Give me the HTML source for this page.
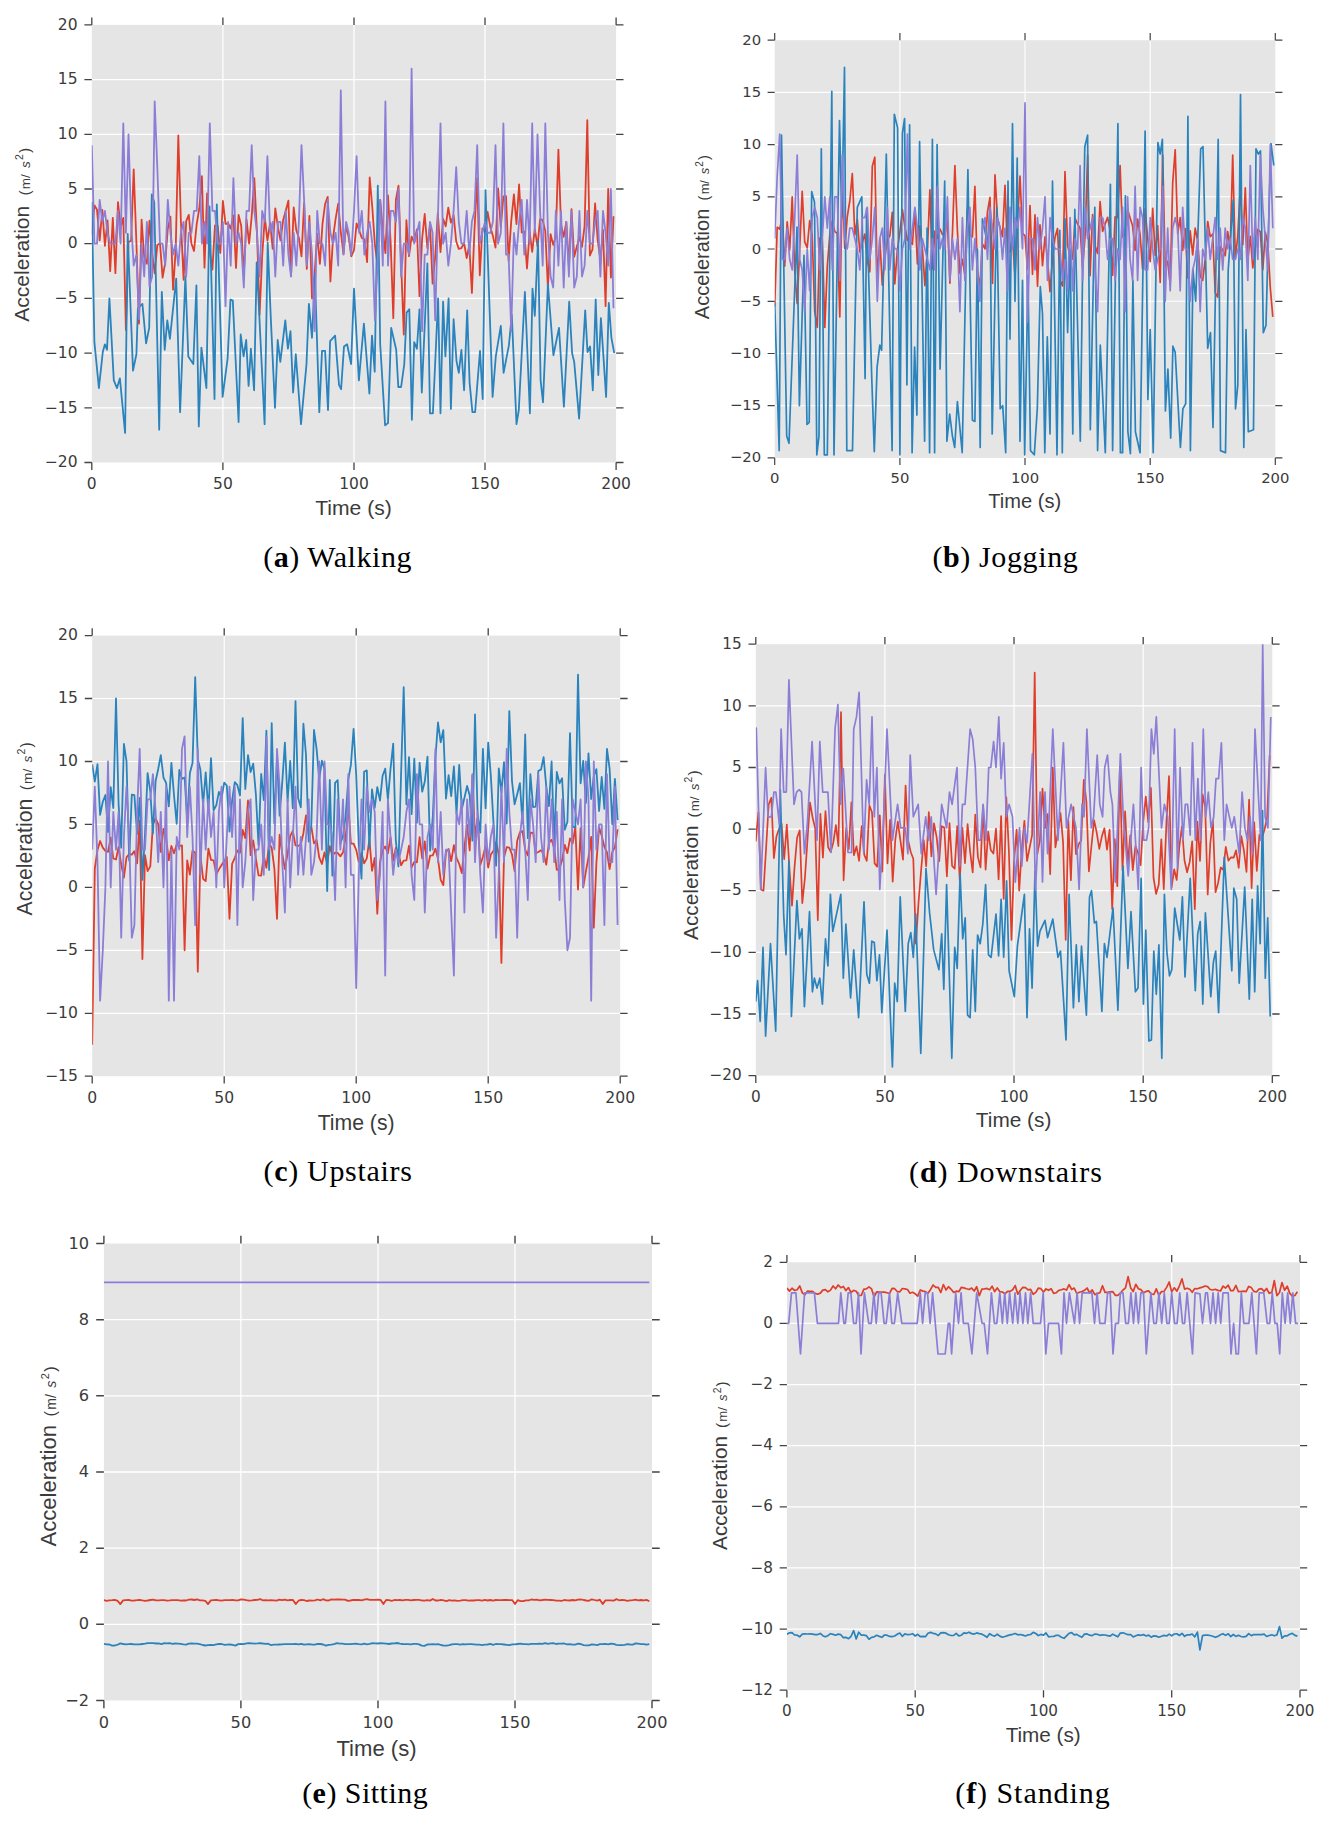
<!DOCTYPE html><html><head><meta charset="utf-8"><style>html,body{margin:0;padding:0;background:#fff;}svg{display:block;}.tk{font-family:"DejaVu Sans",sans-serif;fill:#3b3b3b;}.lb{font-family:"Liberation Sans",sans-serif;fill:#3b3b3b;}.cp{font-family:"Liberation Serif",serif;fill:#000;}</style></head><body>
<svg width="1324" height="1823" viewBox="0 0 1324 1823">
<rect width="1324" height="1823" fill="#fff"/>
<g>
<rect x="91.8" y="24.9" width="524.3" height="437.6" fill="#e5e5e5"/>
<path d="M222.9 24.9V462.5M354 24.9V462.5M485 24.9V462.5M91.8 407.8H616.1M91.8 353.1H616.1M91.8 298.4H616.1M91.8 243.7H616.1M91.8 189H616.1M91.8 134.3H616.1M91.8 79.6H616.1" stroke="#fff" stroke-width="1.2" fill="none"/>
<clipPath id="clip_a"><rect x="91.8" y="24.9" width="524.3" height="437.6"/></clipPath>
<g clip-path="url(#clip_a)" fill="none" stroke-width="1.8" stroke-linejoin="round">
<polyline stroke="#DE3E2B" points="91.8,234.2 94.4,205.3 97,209.8 99.7,240.4 102.3,209.8 104.9,245.8 107.5,220.3 110.2,271.1 112.8,217.8 115.4,273.2 118,202.1 120.6,227.5 123.3,217.9 125.9,330.1 128.5,242 131.1,240.7 133.7,169.3 136.4,242.5 139,323.6 141.6,219.6 144.2,257.1 146.9,263.7 149.5,220.6 152.1,252.5 154.7,273.5 157.3,245.1 160,243.2 162.6,277.6 165.2,262.7 167.8,228.6 170.4,216.6 173.1,289.6 175.7,249.5 178.3,135.4 180.9,221.5 183.6,279.8 186.2,221.2 188.8,214.9 191.4,243.5 194,251 196.7,224.1 199.3,208.5 201.9,176.2 204.5,267.7 207.1,193.4 209.8,251.7 212.4,269.5 215,225.3 217.6,225.3 220.3,253 222.9,201 225.5,223.8 228.1,223.5 230.7,228.5 233.4,215.3 236,268 238.6,214.9 241.2,225.8 243.8,275.5 246.5,219.3 249.1,243.6 251.7,216.1 254.3,178.1 257,232.7 259.6,314.8 262.2,255.5 264.8,217.7 267.4,240.7 270.1,223 272.7,248.8 275.3,208.4 277.9,227 280.5,240.4 283.2,220 285.8,210.4 288.4,200.7 291,276.2 293.7,207.4 296.3,230.3 298.9,237.9 301.5,256.4 304.1,203.2 306.8,268.9 309.4,215.8 312,298.4 314.6,274.9 317.2,233.6 319.9,263.9 322.5,223.8 325.1,204 327.7,196.9 330.4,281.5 333,238.2 335.6,218.9 338.2,203.6 340.8,232 343.5,254.2 346.1,225.1 348.7,237.3 351.3,256.4 354,250.2 356.6,223.4 359.2,230.5 361.8,237.9 364.4,239.2 367.1,262.2 369.7,177.5 372.3,207.5 374.9,244.6 377.5,264.5 380.2,199.8 382.8,230.4 385.4,253.2 388,195.5 390.7,243.5 393.3,318.1 395.9,200 398.5,185.7 401.1,262.8 403.8,334.5 406.4,220.2 409,256.1 411.6,236.6 414.2,242.3 416.9,229.3 419.5,296.2 422.1,239 424.7,214 427.4,248.3 430,225.1 432.6,283.7 435.2,256.9 437.8,213.1 440.5,252.2 443.1,218.8 445.7,226.3 448.3,207.7 450.9,222.6 453.6,215.2 456.2,241.3 458.8,248.9 461.4,248.2 464.1,243 466.7,258.1 469.3,245.2 471.9,292.9 474.5,229.3 477.2,178.1 479.8,275.3 482.4,228.5 485,231.3 487.6,211.9 490.3,226.9 492.9,235.9 495.5,247.6 498.1,188.4 500.8,227.7 503.4,196.3 506,196.1 508.6,260.6 511.2,221.4 513.9,194.3 516.5,224.2 519.1,184.5 521.7,232.5 524.3,231.6 527,268.5 529.6,231.9 532.2,251.9 534.8,228.8 537.5,246.4 540.1,219.1 542.7,220.2 545.3,231.1 547.9,287.6 550.6,234.1 553.2,244.9 555.8,236.6 558.4,149.6 561,224.4 563.7,236.8 566.3,221.9 568.9,266.6 571.5,209.2 574.2,256.8 576.8,246.6 579.4,236.9 582,246.9 584.6,226.2 587.3,120.1 589.9,255.5 592.5,249.3 595.1,203.4 597.7,240.3 600.4,259.4 603,229.9 605.6,306.1 608.2,188.8 610.9,277.5 613.5,216.3"/>
<polyline stroke="#2A83BC" points="91.8,202.1 94.4,342.2 98.9,388.1 102.8,352 104.9,344.3 107,349.8 109.4,298.4 113.8,380.4 117,388.1 119.9,378.3 125.1,433 127.7,233.9 133,370.6 136.4,354.2 137.9,308.2 142.4,303.9 146.1,343.3 149.2,327.9 151.8,194.5 154.2,202.1 159.2,429.7 161.8,291.8 164.7,349.8 167.3,320.3 169.9,338.9 176.2,278.7 180.1,412.2 185.4,276.5 188.3,356.4 193.3,364 196.4,285.3 198.8,426.4 201.4,347.6 206.4,388.1 209.5,206.5 214.5,399 216.8,204.3 222.6,396.9 227.6,358.6 230.5,299.5 232.8,300.6 238.6,422 240.7,334.5 243.6,356.4 246.2,340 248.6,385.9 250.9,348.7 254.1,390.3 256.7,262.3 264.6,424.2 267.7,242.6 270.8,318.1 275,407.8 277.7,340 280.3,361.9 285.3,320.3 287.9,348.7 290.5,331.2 293.1,392.5 295.8,354.2 301,424.2 306.5,364 308.9,303.9 312,337.8 314.9,274.3 319.3,412.2 322,350.9 325.1,350.9 328,410 330.1,341.1 335.1,335.6 339,384.8 341.1,389.2 344,346.5 347.1,344.3 351.1,364 354,288.6 358.9,380.4 363.9,323.6 369.4,393.6 372,335.6 374.7,371.7 377.8,185.7 380.2,344.3 385.1,425.3 388,423.1 391.2,327.9 396.2,349.8 398.3,387 401.1,387 404.3,364 406.6,312.6 409.3,309.3 411.9,419.8 414.2,342.2 416.9,348.7 419.5,309.3 421.8,392.5 427.4,263.4 430,413.3 432.9,413.3 438.1,298.4 440.5,413.3 443.1,301.7 445.4,356.4 448.6,298.4 450.9,408.9 453.6,319.2 456.5,360.8 458.8,372.8 461.4,349.8 464.1,390.3 467.2,310.4 469.6,382.6 472.4,412.2 475.1,412.2 480,350.9 482.7,399 485.5,190.1 492.6,396.9 495.8,356.4 500.8,325.8 503.6,372.8 508.9,345.4 511.8,314.8 516.5,424.2 518.8,410 524.9,291.8 529.9,413.3 532.5,288.6 534.8,315.9 538,240.4 540.6,380.4 543,402.3 547.9,284.2 553.4,355.3 559,327.9 563.9,406.7 569.2,301.7 572.1,353.1 574.2,361.9 579.1,418.7 585.2,310.4 587.5,352 590.1,346.5 592.8,390.3 595.7,299.5 598.3,375 600.9,318.1 606.1,396.9 608.8,302.8 611.4,337.8 614.3,353.1"/>
<polyline stroke="#8B7ED6" points="91.8,145.2 94.4,243.7 97,243.7 99.7,199.9 102.3,221.8 104.9,210.9 107.5,232.8 110.2,243.7 112.8,243.7 115.4,243.7 118,210.9 120.6,243.7 123.3,123.4 125.9,232.8 128.5,134.3 131.1,221.8 133.7,265.6 136.4,254.6 139,319.2 141.6,243.7 144.2,276.5 146.9,221.8 149.5,286.4 152.1,276.5 154.7,101.5 157.3,167.1 160,243.7 162.6,243.7 165.2,265.6 167.8,199.9 170.4,232.8 173.1,254.6 175.7,243.7 178.3,265.6 180.9,232.8 183.6,221.8 186.2,276.5 188.8,232.8 191.4,232.8 194,210.9 196.7,210.9 199.3,156.2 201.9,243.7 204.5,221.8 207.1,243.7 209.8,123.4 212.4,210.9 215,210.9 217.6,243.7 220.3,243.7 222.9,221.8 225.5,306.1 228.1,221.8 230.7,265.6 233.4,178.1 236,243.7 238.6,232.8 241.2,243.7 243.8,287.5 246.5,210.9 249.1,210.9 251.7,145.2 254.3,210.9 257,232.8 259.6,276.5 262.2,210.9 264.8,221.8 267.4,156.2 270.1,232.8 272.7,221.8 275.3,276.5 277.9,221.8 280.5,221.8 283.2,265.6 285.8,210.9 288.4,254.6 291,276.5 293.7,232.8 296.3,265.6 298.9,221.8 301.5,145.2 304.1,199.9 306.8,265.6 309.4,221.8 312,254.6 314.6,331.2 317.2,210.9 319.9,243.7 322.5,243.7 325.1,265.6 327.7,199.9 330.4,232.8 333,243.7 335.6,232.8 338.2,265.6 340.8,90.5 343.5,254.6 346.1,221.8 348.7,232.8 351.3,254.6 354,210.9 356.6,156.2 359.2,232.8 361.8,210.9 364.4,254.6 367.1,232.8 369.7,221.8 372.3,243.7 374.9,320.3 377.5,265.6 380.2,199.9 382.8,265.6 385.4,101.5 388,265.6 390.7,210.9 393.3,210.9 395.9,221.8 398.5,189 401.1,276.5 403.8,243.7 406.4,243.7 409,254.6 411.6,68.7 414.2,243.7 416.9,232.8 419.5,221.8 422.1,331.2 424.7,254.6 427.4,254.6 430,221.8 432.6,232.8 435.2,320.3 437.8,221.8 440.5,123.4 443.1,243.7 445.7,232.8 448.3,265.6 450.9,243.7 453.6,210.9 456.2,167.1 458.8,221.8 461.4,243.7 464.1,243.7 466.7,210.9 469.3,254.6 471.9,221.8 474.5,210.9 477.2,145.2 479.8,243.7 482.4,232.8 485,221.8 487.6,232.8 490.3,232.8 492.9,221.8 495.5,145.2 498.1,243.7 500.8,232.8 503.4,123.4 506,254.6 508.6,254.6 511.2,331.2 513.9,232.8 516.5,254.6 519.1,221.8 521.7,199.9 524.3,254.6 527,199.9 529.6,243.7 532.2,123.4 534.8,232.8 537.5,134.3 540.1,210.9 542.7,265.6 545.3,123.4 547.9,232.8 550.6,276.5 553.2,287.5 555.8,210.9 558.4,265.6 561,210.9 563.7,287.5 566.3,221.8 568.9,276.5 571.5,210.9 574.2,287.5 576.8,276.5 579.4,210.9 582,276.5 584.6,265.6 587.3,210.9 589.9,243.7 592.5,243.7 595.1,221.8 597.7,210.9 600.4,276.5 603,210.9 605.6,232.8 608.2,265.6 610.9,189 613.5,308.2"/>
</g>
<path d="M91.8 462.5v7.4M91.8 24.9v-7.4M222.9 462.5v7.4M222.9 24.9v-7.4M354 462.5v7.4M354 24.9v-7.4M485 462.5v7.4M485 24.9v-7.4M616.1 462.5v7.4M616.1 24.9v-7.4M91.8 462.5h-7.4M616.1 462.5h7.4M91.8 407.8h-7.4M616.1 407.8h7.4M91.8 353.1h-7.4M616.1 353.1h7.4M91.8 298.4h-7.4M616.1 298.4h7.4M91.8 243.7h-7.4M616.1 243.7h7.4M91.8 189h-7.4M616.1 189h7.4M91.8 134.3h-7.4M616.1 134.3h7.4M91.8 79.6h-7.4M616.1 79.6h7.4M91.8 24.9h-7.4M616.1 24.9h7.4" stroke="#444444" stroke-width="1.3" fill="none"/>
<text class="tk" x="91.8" y="489" font-size="15.5" text-anchor="middle">0</text>
<text class="tk" x="222.9" y="489" font-size="15.5" text-anchor="middle">50</text>
<text class="tk" x="354" y="489" font-size="15.5" text-anchor="middle">100</text>
<text class="tk" x="485" y="489" font-size="15.5" text-anchor="middle">150</text>
<text class="tk" x="616.1" y="489" font-size="15.5" text-anchor="middle">200</text>
<text class="tk" x="77.6" y="467.2" font-size="15.5" text-anchor="end">−20</text>
<text class="tk" x="77.6" y="412.5" font-size="15.5" text-anchor="end">−15</text>
<text class="tk" x="77.6" y="357.8" font-size="15.5" text-anchor="end">−10</text>
<text class="tk" x="77.6" y="303.1" font-size="15.5" text-anchor="end">−5</text>
<text class="tk" x="77.6" y="248.4" font-size="15.5" text-anchor="end">0</text>
<text class="tk" x="77.6" y="193.7" font-size="15.5" text-anchor="end">5</text>
<text class="tk" x="77.6" y="139" font-size="15.5" text-anchor="end">10</text>
<text class="tk" x="77.6" y="84.3" font-size="15.5" text-anchor="end">15</text>
<text class="tk" x="77.6" y="29.6" font-size="15.5" text-anchor="end">20</text>
<text class="lb" x="353.5" y="515.4" font-size="21.1" text-anchor="middle">Time (s)</text>
<text class="lb" transform="translate(29.2 321.8) rotate(-90)" font-size="21.1">Acceleration</text>
<text class="lb" transform="translate(29.8 195.5) rotate(-90)" font-size="15.5">(<tspan dx="1.2" font-size="13.5">m/</tspan><tspan dx="1.2" font-size="13.5"> </tspan><tspan dx="1.2" font-size="13.5" font-style="italic">s</tspan><tspan dx="1.2" dy="-6.8" font-size="10.5">2</tspan><tspan dx="1.2" dy="6.8">)</tspan></text>
<text class="cp" x="337.3" y="566.8" font-size="30" text-anchor="middle" textLength="148.3" lengthAdjust="spacing">(<tspan font-weight="bold">a</tspan>) Walking</text>
</g>
<g>
<rect x="774.7" y="40.2" width="500.6" height="417.7" fill="#e5e5e5"/>
<path d="M899.9 40.2V457.9M1025 40.2V457.9M1150.2 40.2V457.9M774.7 405.7H1275.3M774.7 353.5H1275.3M774.7 301.3H1275.3M774.7 249H1275.3M774.7 196.8H1275.3M774.7 144.6H1275.3M774.7 92.4H1275.3" stroke="#fff" stroke-width="1.1" fill="none"/>
<clipPath id="clip_b"><rect x="774.7" y="40.2" width="500.6" height="417.7"/></clipPath>
<g clip-path="url(#clip_b)" fill="none" stroke-width="1.7" stroke-linejoin="round">
<polyline stroke="#DE3E2B" points="774.7,306.5 777.2,227.3 779.7,229.1 782.2,217.7 784.7,266.2 787.2,221.9 789.7,249.9 792.2,196.8 794.7,270.8 797.2,303.6 799.7,249 802.2,191.3 804.7,241.8 807.2,247.6 809.7,220.6 812.2,235.1 814.7,311.7 817.3,327.4 819.8,238.1 822.3,238.9 824.8,327.4 827.3,266.4 829.8,234.7 832.3,221.1 834.8,231.6 837.3,233.2 839.8,316.9 842.3,182.8 844.8,248.5 847.3,216.6 849.8,201 852.3,173.5 854.8,235 857.3,219.3 859.8,252 862.3,242.4 864.8,234.1 867.3,260.7 869.8,271.8 872.3,166.3 874.8,157.2 877.3,281.5 879.8,238.5 882.3,285.1 884.8,258.4 887.3,239.1 889.8,236.2 892.3,212.4 894.8,284 897.3,250.5 899.9,232.2 902.4,209.7 904.9,227.1 907.4,240.1 909.9,241.2 912.4,244.3 914.9,209.3 917.4,263.9 919.9,225.8 922.4,248.2 924.9,285.6 927.4,250.3 929.9,189.8 932.4,268.9 934.9,231.2 937.4,238.2 939.9,228.8 942.4,234.5 944.9,234 947.4,220.7 949.9,283.1 952.4,234.2 954.9,165.5 957.4,230.7 959.9,273.3 962.4,259.4 964.9,275.1 967.4,209.4 969.9,235.3 972.4,236.9 974.9,186.4 977.4,271.7 979.9,286.9 982.4,243.8 985,248.9 987.5,211.6 990,197.3 992.5,283.5 995,174.8 997.5,218.5 1000,227.2 1002.5,236.7 1005,185.4 1007.5,252 1010,252 1012.5,237.3 1015,276.4 1017.5,224.4 1020,176 1022.5,233.3 1025,235.7 1027.5,269.3 1030,205.5 1032.5,274.3 1035,214.8 1037.5,286.3 1040,224.8 1042.5,265.7 1045,236.8 1047.5,259.3 1050,291.6 1052.5,259.4 1055,237.4 1057.5,228.5 1060,280.6 1062.5,285.9 1065,171.7 1067.6,245.1 1070.1,257.2 1072.6,259 1075.1,218.7 1077.6,224 1080.1,228.4 1082.6,267.8 1085.1,235.6 1087.6,155.1 1090.1,275.6 1092.6,214.7 1095.1,245.9 1097.6,253.4 1100.1,201.5 1102.6,231.4 1105.1,224.1 1107.6,217.3 1110.1,230.3 1112.6,275.3 1115.1,216.8 1117.6,217.8 1120.1,165.5 1122.6,236.9 1125.1,234.1 1127.6,209.6 1130.1,217.9 1132.6,225.8 1135.1,250.3 1137.6,219 1140.1,234.5 1142.6,269 1145.1,208.8 1147.6,237.4 1150.2,261.7 1152.7,208.3 1155.2,255.5 1157.7,225.7 1160.2,282.5 1162.7,155.1 1165.2,266.8 1167.7,261.1 1170.2,284.7 1172.7,182.6 1175.2,149.8 1177.7,233.7 1180.2,217.7 1182.7,250.5 1185.2,228.7 1187.7,278 1190.2,230.8 1192.7,254.9 1195.2,228.1 1197.7,241.1 1200.2,276.2 1202.7,280.4 1205.2,259.4 1207.7,221.5 1210.2,236.6 1212.7,234.1 1215.2,292.8 1217.7,297.2 1220.2,246.7 1222.7,249.8 1225.2,255.7 1227.7,231.5 1230.2,249 1232.7,155.1 1235.3,258.4 1237.8,236.1 1240.3,186.4 1242.8,244.6 1245.3,187.9 1247.8,260 1250.3,236.4 1252.8,267.9 1255.3,246.3 1257.8,229.4 1260.3,231.8 1262.8,269.9 1265.3,232.1 1267.8,243.6 1270.3,287.8 1272.8,316.9"/>
<polyline stroke="#2A83BC" points="774.7,302.3 779.2,450.6 781.5,135.2 786.7,436 789,443.3 797,227.1 799.4,405.7 804,255.3 807,424.5 809.2,422.4 811.7,191.6 814.5,202.1 816.8,454.8 819,436 821.3,148.8 824.3,454.8 827.3,454.8 831.8,91.4 834,454.8 839.5,120.6 841.8,217.7 844.5,67.4 846.8,450.6 852.5,450.6 857.3,207.3 861.8,196.8 865.1,378.5 866.6,208.3 871.8,379.6 874.3,451.6 877.1,367.1 879.8,345.1 881.6,350.3 886.3,154 892.1,450.6 894.3,114.3 897.6,127.9 899.9,454.8 902.4,133.1 904.6,118.5 906.9,384.8 909.6,124.8 912.1,452.7 914.6,347.2 916.9,415.1 919.6,141.5 924.6,441.2 927.1,228.2 929.6,452.7 932.4,139.4 934.6,452.7 937.1,144.6 940.1,369.1 944.7,181.2 946.9,441.2 949.7,414 952.4,436 954.7,447.5 957.4,401.5 962.2,452.7 967.9,169.7 972.4,420.3 974.9,421.4 977.4,249 980.2,447.5 982.4,218.8 987.5,243.8 990,207.3 992.2,433.9 996.7,207.3 1000.2,408.8 1002.7,405.7 1005.7,452.7 1008,181.2 1010,338.9 1012.5,123.7 1015,301.3 1017.2,158.2 1020,441.2 1022.5,280.4 1024.7,454.8 1028,276.2 1030.5,450.6 1034.3,454.8 1037.3,408.8 1040.3,286.6 1042.5,313.8 1044.8,452.7 1047.3,336.8 1050,433.9 1052.5,181.2 1057,454.8 1059.8,230.3 1062.3,452.7 1065,218.8 1067.6,332.6 1070.1,249 1072.8,433.9 1074.8,209.4 1080.3,441.2 1082.6,269.9 1084.8,146.7 1087.6,135.2 1090.3,429.7 1094.8,207.3 1097.6,450.6 1100.3,345.1 1105.3,452.7 1110.4,184.3 1112.6,450.6 1117.9,123.7 1120.4,452.7 1122.6,452.7 1125.4,195.8 1127.9,431.8 1130.4,453.7 1132.9,280.4 1135.4,431.8 1140.1,452.7 1145.1,131 1147.9,399.4 1150.2,329.5 1153.2,452.7 1157.9,142.5 1160.2,154 1162.4,139.4 1165.4,410.9 1167.9,369.1 1170.7,438.1 1172.9,346.2 1175.2,352.4 1180.4,447.5 1182.9,408.8 1185.7,403.6 1187.9,116.4 1190.4,450.6 1193,269.9 1195.7,301.3 1200.7,148.8 1203,146.7 1207.7,348.3 1210.5,332.6 1213,427.6 1218.2,139.4 1220.5,450.6 1225.5,452.7 1228.2,269.9 1233.2,200 1235.5,408.8 1237.8,384.8 1240.5,94.5 1243.8,447.5 1246,329.5 1248.3,431.8 1253.5,429.7 1256,148.8 1258.3,154 1260.5,150.9 1263.3,332.6 1266,325.3 1268.5,228.2 1271,143.6 1273.8,165.5"/>
<polyline stroke="#8B7ED6" points="774.7,238.6 777.2,176 779.7,134.2 782.2,259.5 784.7,259.5 787.2,228.2 789.7,259.5 792.2,269.9 794.7,217.7 797.2,155.1 799.7,259.5 802.2,269.9 804.7,311.7 807.2,249 809.7,290.8 812.2,217.7 814.7,207.3 817.3,217.7 819.8,269.9 822.3,238.6 824.8,196.8 827.3,228.2 829.8,196.8 832.3,269.9 834.8,196.8 837.3,196.8 839.8,280.4 842.3,155.1 844.8,238.6 847.3,249 849.8,228.2 852.3,228.2 854.8,238.6 857.3,249 859.8,269.9 862.3,217.7 864.8,217.7 867.3,207.3 869.8,259.5 872.3,238.6 874.8,207.3 877.3,301.3 879.8,238.6 882.3,228.2 884.8,269.9 887.3,207.3 889.8,269.9 892.3,238.6 894.8,249 897.3,249 899.9,290.8 902.4,249 904.9,238.6 907.4,134.2 909.9,249 912.4,228.2 914.9,207.3 917.4,228.2 919.9,269.9 922.4,238.6 924.9,249 927.4,259.5 929.9,269.9 932.4,238.6 934.9,269.9 937.4,186.4 939.9,249 942.4,238.6 944.9,249 947.4,196.8 949.9,280.4 952.4,238.6 954.9,259.5 957.4,238.6 959.9,311.7 962.4,217.7 964.9,280.4 967.4,228.2 969.9,207.3 972.4,269.9 974.9,238.6 977.4,269.9 979.9,301.3 982.4,228.2 985,217.7 987.5,259.5 990,207.3 992.5,228.2 995,249 997.5,217.7 1000,228.2 1002.5,259.5 1005,228.2 1007.5,290.8 1010,207.3 1012.5,249 1015,217.7 1017.5,228.2 1020,207.3 1022.5,249 1025,102.9 1027.5,322.1 1030,238.6 1032.5,238.6 1035,269.9 1037.5,217.7 1040,249 1042.5,228.2 1045,196.8 1047.5,280.4 1050,217.7 1052.5,238.6 1055,249 1057.5,249 1060,249 1062.5,280.4 1065,259.5 1067.6,290.8 1070.1,217.7 1072.6,290.8 1075.1,238.6 1077.6,249 1080.1,165.5 1082.6,280.4 1085.1,207.3 1087.6,238.6 1090.1,228.2 1092.6,217.7 1095.1,269.9 1097.6,311.7 1100.1,217.7 1102.6,217.7 1105.1,228.2 1107.6,259.5 1110.1,238.6 1112.6,238.6 1115.1,280.4 1117.6,249 1120.1,259.5 1122.6,207.3 1125.1,311.7 1127.6,196.8 1130.1,259.5 1132.6,280.4 1135.1,186.4 1137.6,280.4 1140.1,207.3 1142.6,217.7 1145.1,269.9 1147.6,269.9 1150.2,217.7 1152.7,249 1155.2,269.9 1157.7,259.5 1160.2,249 1162.7,186.4 1165.2,301.3 1167.7,228.2 1170.2,290.8 1172.7,228.2 1175.2,217.7 1177.7,228.2 1180.2,290.8 1182.7,207.3 1185.2,249 1187.7,249 1190.2,301.3 1192.7,269.9 1195.2,259.5 1197.7,238.6 1200.2,311.7 1202.7,249 1205.2,259.5 1207.7,228.2 1210.2,259.5 1212.7,238.6 1215.2,217.7 1217.7,259.5 1220.2,228.2 1222.7,269.9 1225.2,228.2 1227.7,249 1230.2,238.6 1232.7,259.5 1235.3,259.5 1237.8,249 1240.3,259.5 1242.8,217.7 1245.3,228.2 1247.8,280.4 1250.3,165.5 1252.8,259.5 1255.3,217.7 1257.8,259.5 1260.3,155.1 1262.8,207.3 1265.3,238.6 1267.8,269.9 1270.3,144.6 1272.8,228.2"/>
</g>
<path d="M774.7 457.9v7.1M774.7 40.2v-7.1M899.9 457.9v7.1M899.9 40.2v-7.1M1025 457.9v7.1M1025 40.2v-7.1M1150.2 457.9v7.1M1150.2 40.2v-7.1M1275.3 457.9v7.1M1275.3 40.2v-7.1M774.7 457.9h-7.1M1275.3 457.9h7.1M774.7 405.7h-7.1M1275.3 405.7h7.1M774.7 353.5h-7.1M1275.3 353.5h7.1M774.7 301.3h-7.1M1275.3 301.3h7.1M774.7 249h-7.1M1275.3 249h7.1M774.7 196.8h-7.1M1275.3 196.8h7.1M774.7 144.6h-7.1M1275.3 144.6h7.1M774.7 92.4h-7.1M1275.3 92.4h7.1M774.7 40.2h-7.1M1275.3 40.2h7.1" stroke="#444444" stroke-width="1.2" fill="none"/>
<text class="tk" x="774.7" y="483.2" font-size="14.8" text-anchor="middle">0</text>
<text class="tk" x="899.9" y="483.2" font-size="14.8" text-anchor="middle">50</text>
<text class="tk" x="1025" y="483.2" font-size="14.8" text-anchor="middle">100</text>
<text class="tk" x="1150.2" y="483.2" font-size="14.8" text-anchor="middle">150</text>
<text class="tk" x="1275.3" y="483.2" font-size="14.8" text-anchor="middle">200</text>
<text class="tk" x="761.2" y="462.4" font-size="14.8" text-anchor="end">−20</text>
<text class="tk" x="761.2" y="410.2" font-size="14.8" text-anchor="end">−15</text>
<text class="tk" x="761.2" y="358" font-size="14.8" text-anchor="end">−10</text>
<text class="tk" x="761.2" y="305.8" font-size="14.8" text-anchor="end">−5</text>
<text class="tk" x="761.2" y="253.5" font-size="14.8" text-anchor="end">0</text>
<text class="tk" x="761.2" y="201.3" font-size="14.8" text-anchor="end">5</text>
<text class="tk" x="761.2" y="149.1" font-size="14.8" text-anchor="end">10</text>
<text class="tk" x="761.2" y="96.9" font-size="14.8" text-anchor="end">15</text>
<text class="tk" x="761.2" y="44.7" font-size="14.8" text-anchor="end">20</text>
<text class="lb" x="1024.7" y="508.2" font-size="20.1" text-anchor="middle">Time (s)</text>
<text class="lb" transform="translate(708.5 319.2) rotate(-90)" font-size="20.1">Acceleration</text>
<text class="lb" transform="translate(709 200.4) rotate(-90)" font-size="14.8">(<tspan dx="1.1" font-size="12.9">m/</tspan><tspan dx="1.1" font-size="12.9"> </tspan><tspan dx="1.1" font-size="12.9" font-style="italic">s</tspan><tspan dx="1.1" dy="-6.5" font-size="10">2</tspan><tspan dx="1.1" dy="6.5">)</tspan></text>
<text class="cp" x="1005.1" y="567" font-size="30" text-anchor="middle" textLength="145.4" lengthAdjust="spacing">(<tspan font-weight="bold">b</tspan>) Jogging</text>
</g>
<g>
<rect x="92.2" y="635.6" width="528" height="440.6" fill="#e5e5e5"/>
<path d="M224.2 635.6V1076.2M356.2 635.6V1076.2M488.2 635.6V1076.2M92.2 1013.3H620.2M92.2 950.3H620.2M92.2 887.4H620.2M92.2 824.4H620.2M92.2 761.5H620.2M92.2 698.5H620.2" stroke="#fff" stroke-width="1.2" fill="none"/>
<clipPath id="clip_c"><rect x="92.2" y="635.6" width="528" height="440.6"/></clipPath>
<g clip-path="url(#clip_c)" fill="none" stroke-width="1.8" stroke-linejoin="round">
<polyline stroke="#DE3E2B" points="92.2,1044.7 94.8,868.5 97.5,850 100.1,841 102.8,847.6 105.4,850.9 108,851.9 110.7,837.6 113.3,858.5 116,859.5 118.6,847 121.2,864.5 123.9,877.7 126.5,857.3 129.2,854.2 131.8,854.6 134.4,851.1 137.1,863.4 139.7,820.6 142.4,959.1 145,855.2 147.6,871.1 150.3,866.4 152.9,824.4 155.6,818.1 158.2,824.4 160.8,852 163.5,828.8 166.1,837.9 168.8,860.3 171.4,846 174,853.3 176.7,844.6 179.3,846.1 182,845.4 184.6,950.3 187.2,860.3 189.9,874.7 192.5,850.6 195.2,852.6 197.8,971.7 200.4,855.6 203.1,878.9 205.7,881.1 208.4,848.6 211,859.8 213.6,860.3 216.3,874.2 218.9,869.4 221.6,865 224.2,860.9 226.8,857 229.5,918.8 232.1,863.9 234.8,857.8 237.4,850.5 240,852.7 242.7,830 245.3,838.1 248,800.5 250.6,855.2 253.2,840.4 255.9,858.7 258.5,875.4 261.2,875.6 263.8,855.7 266.4,867.9 269.1,843.4 271.7,847.7 274.4,868.6 277,918.8 279.6,834.7 282.3,853.9 284.9,869.1 287.6,853.8 290.2,836.2 292.8,831 295.5,845.3 298.1,846 300.8,844.6 303.4,833.2 306,815.3 308.7,834.7 311.3,826.7 314,843.4 316.6,840 319.2,857.4 321.9,864 324.5,852.5 327.2,863.2 329.8,846.2 332.4,855.7 335.1,852.6 337.7,853 340.4,856.4 343,852.3 345.6,838.3 348.3,805.7 350.9,843.5 353.6,843.7 356.2,849.8 358.8,862.1 361.5,853.1 364.1,863.3 366.8,858.4 369.4,839.3 372,870.8 374.7,858 377.3,913.8 380,862.3 382.6,850.3 385.2,846.4 387.9,853.3 390.5,837.1 393.2,860.7 395.8,848 398.4,852.6 401.1,865.3 403.7,860.6 406.4,860.4 409,845.6 411.6,867.3 414.3,861.8 416.9,862.3 419.6,837.1 422.2,858.3 424.8,841.5 427.5,868.6 430.1,855.7 432.8,855.3 435.4,848.6 438,858.9 440.7,879.8 443.3,885.1 446,851.8 448.6,849 451.2,861.2 453.9,845.1 456.5,857.8 459.2,864 461.8,873.1 464.4,847.6 467.1,825 469.7,850.5 472.4,775.3 475,837.3 477.6,817.9 480.3,865.1 482.9,856.7 485.6,846.2 488.2,867.6 490.8,854.6 493.5,850.8 496.1,842.3 498.8,854.4 501.4,962.9 504,857.6 506.7,847.1 509.3,847.6 512,854.5 514.6,871.1 517.2,840.8 519.9,832.4 522.5,831.1 525.2,849.9 527.8,855.4 530.4,832.7 533.1,833 535.7,853.2 538.4,852 541,850.2 543.6,853.6 546.3,864.7 548.9,842.5 551.6,839.8 554.2,848.3 556.8,869.9 559.5,868.2 562.1,860.1 564.8,845 567.4,853.1 570,838.5 572.7,843.4 575.3,826.9 578,889.5 580.6,828.2 583.2,887.3 585.9,871.4 588.5,857.3 591.2,837 593.8,927.7 596.4,862.6 599.1,827.5 601.7,835.6 604.4,846.9 607,852.5 609.6,869 612.3,852.2 614.9,847.1 617.6,829.3"/>
<polyline stroke="#2A83BC" points="92.2,764.4 94.8,781.6 97.5,764.2 100.1,814.9 102.8,801.8 105.4,795 108,832 110.7,787.1 113.3,808.1 116,698.5 118.6,804.3 121.2,847.7 123.9,743.9 126.5,761.2 129.2,860.6 131.8,794.6 134.4,795.2 137.1,833.9 139.7,797.8 142.4,879.9 145,834.4 147.6,773.2 150.3,791.3 152.9,833.5 155.6,781.2 158.2,769 160.8,755.2 163.5,777.6 166.1,782.8 168.8,806.4 171.4,762.8 174,795.3 176.7,823.8 179.3,770 182,778.9 184.6,777.5 187.2,819.9 189.9,773 192.5,763 195.2,677.1 197.8,759.1 200.4,769.8 203.1,804.7 205.7,772.3 208.4,811.2 211,758.2 213.6,810.3 216.3,805.3 218.9,791.9 221.6,797.9 224.2,782.6 226.8,785.5 229.5,831.7 232.1,800.7 234.8,782.2 237.4,785.2 240,795.5 242.7,718.1 245.3,789 248,755.2 250.6,772 253.2,763.7 255.9,794.7 258.5,844.9 261.2,774 263.8,800.1 266.4,730.6 269.1,869.9 271.7,723.1 274.4,823.7 277,757 279.6,815.7 282.3,781.6 284.9,742.6 287.6,801.6 290.2,761 292.8,808.1 295.5,701.1 298.1,798 300.8,807.3 303.4,723.7 306,755 308.7,841.5 311.3,825.4 314,730 316.6,748.8 319.2,779.4 321.9,760.7 324.5,769.3 327.2,891.1 329.8,780 332.4,875.7 335.1,782.8 337.7,780.1 340.4,843.7 343,836 345.6,816.6 348.3,779.4 350.9,764.9 353.6,728.8 356.2,774.9 358.8,844 361.5,878.7 364.1,771.8 366.8,770.4 369.4,848.4 372,789.3 374.7,807.8 377.3,787.2 380,800.6 382.6,775.7 385.2,768.7 387.9,799.6 390.5,769.1 393.2,743.7 395.8,839.8 398.4,866.5 401.1,773.3 403.7,687.2 406.4,804.4 409,757.1 411.6,814.2 414.3,758.7 416.9,822.7 419.6,762.6 422.2,791.7 424.8,781.5 427.5,756.6 430.1,850.7 432.8,816.2 435.4,758.4 438,722.5 440.7,742.3 443.3,730.1 446,798.6 448.6,775.2 451.2,796.2 453.9,766.5 456.5,813.9 459.2,764.8 461.8,809.2 464.4,798 467.1,786 469.7,795.5 472.4,840.6 475,714.4 477.6,814.6 480.3,832.6 482.9,748.9 485.6,808.3 488.2,742.6 490.8,775.2 493.5,823.2 496.1,865.7 498.8,768.5 501.4,792.6 504,762.1 506.7,823.7 509.3,711.1 512,781.2 514.6,804.3 517.2,794.3 519.9,783.2 522.5,823.3 525.2,734.5 527.8,838.2 530.4,774.2 533.1,807.2 535.7,806.6 538.4,770.8 541,769.6 543.6,757.1 546.3,786.8 548.9,806.2 551.6,761.5 554.2,844 556.8,771.9 559.5,783.4 562.1,778.2 564.8,829.7 567.4,821.8 570,733.1 572.7,827.1 575.3,827.2 578,674.6 580.6,783.3 583.2,760.8 585.9,803 588.5,753.4 591.2,799 593.8,776 596.4,769.2 599.1,811 601.7,777 604.4,808.8 607,748.9 609.6,768.8 612.3,824.3 614.9,778.8 617.6,820"/>
<polyline stroke="#8B7ED6" points="92.2,849.6 94.8,786.7 97.5,862.2 100.1,1000.7 102.8,950.3 105.4,887.4 108,761.5 110.7,887.4 113.3,811.8 116,849.6 118.6,811.8 121.2,937.7 123.9,837 126.5,786.7 129.2,837 131.8,937.7 134.4,925.1 137.1,811.8 139.7,748.9 142.4,849.6 145,849.6 147.6,799.3 150.3,799.3 152.9,774.1 155.6,811.8 158.2,862.2 160.8,811.8 163.5,887.4 166.1,786.7 168.8,1000.7 171.4,849.6 174,1000.7 176.7,837 179.3,849.6 182,748.9 184.6,736.3 187.2,837 189.9,786.7 192.5,837 195.2,925.1 197.8,748.9 200.4,874.8 203.1,799.3 205.7,849.6 208.4,799.3 211,837 213.6,811.8 216.3,887.4 218.9,811.8 221.6,786.7 224.2,887.4 226.8,837 229.5,786.7 232.1,837 234.8,786.7 237.4,925.1 240,799.3 242.7,887.4 245.3,862.2 248,811.8 250.6,799.3 253.2,900 255.9,849.6 258.5,849.6 261.2,824.4 263.8,874.8 266.4,736.3 269.1,849.6 271.7,837 274.4,849.6 277,748.9 279.6,786.7 282.3,862.2 284.9,912.5 287.6,799.3 290.2,887.4 292.8,837 295.5,786.7 298.1,874.8 300.8,837 303.4,874.8 306,837 308.7,799.3 311.3,874.8 314,862.2 316.6,837 319.2,761.5 321.9,849.6 324.5,761.5 327.2,824.4 329.8,824.4 332.4,837 335.1,900 337.7,799.3 340.4,849.6 343,799.3 345.6,887.4 348.3,774.1 350.9,874.8 353.6,874.8 356.2,988.1 358.8,874.8 361.5,799.3 364.1,849.6 366.8,786.7 369.4,811.8 372,799.3 374.7,811.8 377.3,900 380,874.8 382.6,811.8 385.2,975.5 387.9,799.3 390.5,837 393.2,874.8 395.8,849.6 398.4,862.2 401.1,849.6 403.7,837 406.4,811.8 409,799.3 411.6,874.8 414.3,900 416.9,774.1 419.6,824.4 422.2,824.4 424.8,912.5 427.5,837 430.1,824.4 432.8,849.6 435.4,748.9 438,862.2 440.7,811.8 443.3,874.8 446,849.6 448.6,849.6 451.2,912.5 453.9,975.5 456.5,811.8 459.2,824.4 461.8,799.3 464.4,912.5 467.1,799.3 469.7,837 472.4,774.1 475,862.2 477.6,811.8 480.3,874.8 482.9,912.5 485.6,824.4 488.2,862.2 490.8,837 493.5,824.4 496.1,937.7 498.8,874.8 501.4,786.7 504,862.2 506.7,748.9 509.3,811.8 512,849.6 514.6,849.6 517.2,937.7 519.9,837 522.5,811.8 525.2,849.6 527.8,900 530.4,799.3 533.1,824.4 535.7,862.2 538.4,774.1 541,837 543.6,862.2 546.3,786.7 548.9,849.6 551.6,799.3 554.2,862.2 556.8,811.8 559.5,900 562.1,799.3 564.8,900 567.4,950.3 570,937.7 572.7,799.3 575.3,811.8 578,824.4 580.6,799.3 583.2,887.4 585.9,761.5 588.5,799.3 591.2,1000.7 593.8,761.5 596.4,849.6 599.1,824.4 601.7,824.4 604.4,925.1 607,774.1 609.6,862.2 612.3,862.2 614.9,786.7 617.6,925.1"/>
</g>
<path d="M92.2 1076.2v7.4M92.2 635.6v-7.4M224.2 1076.2v7.4M224.2 635.6v-7.4M356.2 1076.2v7.4M356.2 635.6v-7.4M488.2 1076.2v7.4M488.2 635.6v-7.4M620.2 1076.2v7.4M620.2 635.6v-7.4M92.2 1076.2h-7.4M620.2 1076.2h7.4M92.2 1013.3h-7.4M620.2 1013.3h7.4M92.2 950.3h-7.4M620.2 950.3h7.4M92.2 887.4h-7.4M620.2 887.4h7.4M92.2 824.4h-7.4M620.2 824.4h7.4M92.2 761.5h-7.4M620.2 761.5h7.4M92.2 698.5h-7.4M620.2 698.5h7.4M92.2 635.6h-7.4M620.2 635.6h7.4" stroke="#444444" stroke-width="1.3" fill="none"/>
<text class="tk" x="92.2" y="1102.9" font-size="15.6" text-anchor="middle">0</text>
<text class="tk" x="224.2" y="1102.9" font-size="15.6" text-anchor="middle">50</text>
<text class="tk" x="356.2" y="1102.9" font-size="15.6" text-anchor="middle">100</text>
<text class="tk" x="488.2" y="1102.9" font-size="15.6" text-anchor="middle">150</text>
<text class="tk" x="620.2" y="1102.9" font-size="15.6" text-anchor="middle">200</text>
<text class="tk" x="77.9" y="1081" font-size="15.6" text-anchor="end">−15</text>
<text class="tk" x="77.9" y="1018" font-size="15.6" text-anchor="end">−10</text>
<text class="tk" x="77.9" y="955.1" font-size="15.6" text-anchor="end">−5</text>
<text class="tk" x="77.9" y="892.2" font-size="15.6" text-anchor="end">0</text>
<text class="tk" x="77.9" y="829.2" font-size="15.6" text-anchor="end">5</text>
<text class="tk" x="77.9" y="766.3" font-size="15.6" text-anchor="end">10</text>
<text class="tk" x="77.9" y="703.3" font-size="15.6" text-anchor="end">15</text>
<text class="tk" x="77.9" y="640.4" font-size="15.6" text-anchor="end">20</text>
<text class="lb" x="356.1" y="1129.5" font-size="21.2" text-anchor="middle">Time (s)</text>
<text class="lb" transform="translate(31.6 915.4) rotate(-90)" font-size="21.2">Acceleration</text>
<text class="lb" transform="translate(32.2 790.3) rotate(-90)" font-size="15.6">(<tspan dx="1.2" font-size="13.6">m/</tspan><tspan dx="1.2" font-size="13.6"> </tspan><tspan dx="1.2" font-size="13.6" font-style="italic">s</tspan><tspan dx="1.2" dy="-6.8" font-size="10.6">2</tspan><tspan dx="1.2" dy="6.8">)</tspan></text>
<text class="cp" x="337.7" y="1181.3" font-size="30" text-anchor="middle" textLength="148.3" lengthAdjust="spacing">(<tspan font-weight="bold">c</tspan>) Upstairs</text>
</g>
<g>
<rect x="755.8" y="644.2" width="516.5" height="431.4" fill="#e5e5e5"/>
<path d="M884.9 644.2V1075.6M1014 644.2V1075.6M1143.2 644.2V1075.6M755.8 1014H1272.3M755.8 952.3H1272.3M755.8 890.7H1272.3M755.8 829.1H1272.3M755.8 767.5H1272.3M755.8 705.8H1272.3" stroke="#fff" stroke-width="1.2" fill="none"/>
<clipPath id="clip_d"><rect x="755.8" y="644.2" width="516.5" height="431.4"/></clipPath>
<g clip-path="url(#clip_d)" fill="none" stroke-width="1.7" stroke-linejoin="round">
<polyline stroke="#DE3E2B" points="755.8,841.4 758.4,812.4 761,889.5 763.5,890.7 766.1,848.3 768.7,804.5 771.3,797.9 773.9,858.2 776.5,836.2 779,829 781.6,823.7 784.2,859.2 786.8,824.5 789.4,867.9 792,905.6 794.5,867.6 797.1,837.7 799.7,830.3 802.3,903.2 804.9,878 807.4,841.3 810,802.5 812.6,817.5 815.2,828.2 817.8,920.3 820.4,813.8 822.9,857.6 825.5,811 828.1,847 830.7,851.9 833.3,842.5 835.9,825.1 838.4,846.1 841,712 843.6,880.3 846.2,828.1 848.8,849.1 851.4,802.4 853.9,855.2 856.5,846.4 859.1,860.8 861.7,826.2 864.3,854.8 866.8,860.8 869.4,805.5 872,812.3 874.6,863.4 877.2,866.6 879.8,815.4 882.3,871.7 884.9,774.5 887.5,863.4 890.1,819.8 892.7,881.6 895.3,839.6 897.8,821.5 900.4,840.4 903,859.6 905.6,785.5 908.2,840.6 910.8,852.3 913.3,858.8 915.9,943.7 918.5,903 921.1,870.5 923.7,840.1 926.2,866.3 928.8,812.2 931.4,856.4 934,823.4 936.6,836.9 939.2,861.2 941.7,826.2 944.3,827.6 946.9,876.4 949.5,823.1 952.1,865.9 954.7,868.6 957.2,826.2 959.8,881.1 962.4,827.9 965,863.2 967.6,824.2 970.1,851.3 972.7,872.4 975.3,814.5 977.9,857.1 980.5,867.4 983.1,805.6 985.6,869.7 988.2,831.6 990.8,850.1 993.4,853.6 996,828.5 998.6,879.4 1001.1,816.1 1003.7,899 1006.3,797.2 1008.9,851.2 1011.5,940 1014,862.1 1016.6,829.6 1019.2,890.7 1021.8,848.6 1024.4,820.8 1027,861 1029.5,848.3 1032.1,835.1 1034.7,672.5 1037.3,854 1039.9,840.3 1042.5,788.5 1045,828.2 1047.6,814 1050.2,874.2 1052.8,767.5 1055.4,847.4 1058,831.5 1060.5,813.1 1063.1,842.6 1065.7,940 1068.3,820.2 1070.9,880.3 1073.4,807 1076,854.2 1078.6,844.3 1081.2,840.6 1083.8,779.8 1086.4,801.6 1088.9,871.4 1091.5,845.5 1094.1,820.1 1096.7,832.6 1099.3,848.8 1101.9,836.3 1104.4,828.3 1107,849.7 1109.6,829.7 1112.2,909.2 1114.8,839.2 1117.3,886.2 1119.9,767.5 1122.5,870.5 1125.1,811.4 1127.7,863.9 1130.3,835.4 1132.8,870.1 1135.4,846.1 1138,852.7 1140.6,865.1 1143.2,822 1145.8,796.5 1148.3,822.4 1150.9,787.8 1153.5,877.5 1156.1,893.9 1158.7,884.8 1161.3,839.3 1163.8,889.1 1166.4,823 1169,776.1 1171.6,887.3 1174.2,869.4 1176.7,880 1179.3,847 1181.9,826.5 1184.5,860.5 1187.1,872.3 1189.7,861.9 1192.2,841.4 1194.8,909.2 1197.4,821.5 1200,860.9 1202.6,794.4 1205.2,807.4 1207.7,894.6 1210.3,843.3 1212.9,820.4 1215.5,892.2 1218.1,883 1220.7,867.5 1223.2,869.8 1225.8,846.8 1228.4,860.7 1231,857.3 1233.6,857.6 1236.1,850.4 1238.7,868 1241.3,836.2 1243.9,850.5 1246.5,871.9 1249.1,799.7 1251.6,888.1 1254.2,822.4 1256.8,870.9 1259.4,834.8 1262,838.1 1264.6,829.3 1267.1,817.6 1269.7,755.1"/>
<polyline stroke="#2A83BC" points="755.8,1001.6 757.6,980.7 760.2,1021.4 763,947.4 765.6,1036.2 770.5,943.7 775.7,1031.2 780.3,789.6 783.7,915.4 786,954.8 788.9,861.1 791.4,1016.4 796.9,900.6 799.4,938.8 802,928.9 804.4,1006.6 809.5,911.7 812.4,991.8 814.4,978.2 817,988.1 819.8,978.2 822.4,1004.1 825.5,938.8 827.9,965.9 830.4,894.4 832.8,931.4 840.8,894.4 843.3,978.2 845.9,924 850.6,997.9 853.7,949.9 858.6,1017.7 864,901.8 866.8,974.5 869.4,983.2 871.8,941.2 874.3,942.5 876.9,980.7 879.5,954.8 881.8,1012.7 887,930.2 892.4,1067 894.7,983.2 897.3,1001.6 900.2,896.9 905.3,1011.5 908.2,943.7 910.8,932.6 913.3,957.3 915.7,914.1 920.8,1053.4 926,868.5 929.6,912.9 933.7,949.9 938.9,969.6 941.7,933.9 943.8,989.3 946.6,884.6 951.8,1058.3 954.7,947.4 957.2,968.4 960.1,873.5 962.7,938.8 965.2,917.8 967.6,1015.2 970.1,1017.7 972.7,949.9 975.3,1011.5 977.6,935.1 980.2,943.7 982.8,924 985.6,884.6 988.5,954.8 991.1,957.3 996,914.1 998.6,956 1001.1,899.3 1003.7,957.3 1006.6,880.9 1009.1,970.8 1014.3,996.7 1017.4,946.2 1024.4,894.4 1027,1017.7 1029.5,928.9 1032.1,988.1 1035,871 1037.6,946.2 1039.9,931.4 1045,920.3 1047.6,937.6 1052.8,919.1 1058,957.3 1060.5,951.1 1066,1039.9 1069.1,894.4 1073.4,1007.8 1076.3,944.9 1078.9,1001.6 1081.5,946.2 1086.4,1015.2 1089.5,896.9 1091.5,890.7 1094.4,922.8 1096.4,921.5 1101.9,1011.5 1104.4,943.7 1107,957.3 1113,908 1117.9,1010.3 1123,866.1 1127.9,968.4 1131,911.7 1135.4,991.8 1138,988.1 1141.1,878.4 1143.4,1004.1 1145.8,930.2 1148.9,1041.1 1151.4,1039.9 1153.8,951.1 1156.3,994.3 1158.9,944.9 1161.8,1058.3 1164.4,894.4 1166.9,952.3 1169.5,975.8 1171.8,969.6 1174.7,908 1179.8,940 1182.4,896.9 1185,977 1190.2,878.4 1195.3,990.6 1197.7,933.9 1200.2,921.5 1202.8,1004.1 1205.4,912.9 1210.8,996.7 1213.4,962.2 1215.7,951.1 1218.6,1012.7 1224.3,857.4 1231.8,970.8 1233.8,888.2 1236.7,899.3 1239.2,983.2 1244.7,887 1249.3,999.2 1252.2,899.3 1254.7,991.8 1257.6,885.8 1260.2,943.7 1262.5,810.6 1265.3,978.2 1267.7,917.8 1270.2,1016.4"/>
<polyline stroke="#8B7ED6" points="755.8,730.5 756.3,728 760.7,889.5 765.6,767.5 768.1,816.8 771.3,816.8 773.9,792.1 775.9,792.1 779.3,824.2 781.1,729.2 783.7,792.1 786.3,792.1 788.9,679.9 794,804.4 796.6,792.1 799.2,789.6 801.5,792.1 804.5,853.7 807.4,822.9 812.1,741.6 817,840.2 819.8,741.6 822.7,792.1 825.3,792.1 827.9,792.1 831,852.5 835.1,728 837.9,704.6 840.5,804.4 843.3,768.7 848,852.5 851.6,852.5 853.7,729.2 856.5,716.9 859.1,692.3 863.7,852.5 866.6,779.8 869.2,804.4 872,716.9 874.3,816.8 876.9,767.5 879.8,889.5 883.6,819.2 887,729.2 892.4,840.2 897.6,804.4 900.7,827.9 905.3,827.9 907.9,853.7 910.2,755.1 913.3,816.8 918.2,804.4 921.3,853.7 925.7,816.8 928.6,840.2 931.2,816.8 936.1,894.4 941.7,804.4 946.6,827.9 949.5,792.1 952.1,804.4 957,767.5 959.8,866.1 962.4,804.4 965,804.4 970.1,729.2 972.7,739.1 975.3,767.5 978.2,840.2 980.5,840.2 983.1,804.4 985.9,840.2 988.7,767.5 990.8,767.5 993.6,741.6 996,767.5 998.8,716.9 1001.1,778.6 1003.7,742.8 1006.3,816.8 1009.1,804.4 1012.5,816.8 1015.3,882.1 1019.5,827.9 1021.8,866.1 1024.4,827.9 1027,842.6 1032.4,753.9 1035.5,890.7 1040.1,792.1 1042.5,882.1 1045,792.1 1047.6,853.7 1052.8,729.2 1058,840.2 1063.4,742.8 1066.5,827.9 1071.1,804.4 1076,827.9 1079.1,889.5 1082,804.4 1084,816.8 1086.9,729.2 1091.3,827.9 1093.6,816.8 1097.2,755.1 1099.8,804.4 1102.6,816.8 1104.7,767.5 1107.5,755.1 1110.4,792.1 1112.4,804.4 1115.3,882.1 1120.4,753.9 1123.3,816.8 1128.2,875.9 1133.4,804.4 1138.3,889.5 1141.1,767.5 1143.7,840.2 1146.5,840.2 1148.6,827.9 1151.4,729.2 1153.8,753.9 1156.3,716.9 1161.5,827.9 1164.4,804.4 1167.7,816.8 1171.3,889.5 1174.7,729.2 1177.5,868.5 1180.1,767.5 1182.9,840.2 1185.3,804.4 1187.6,804.4 1190.2,835.2 1192.5,742.8 1195.3,840.2 1197.9,778.6 1200.5,840.2 1203.3,729.2 1205.7,816.8 1208.3,792.1 1211.1,827.9 1213.7,816.8 1216,778.6 1218.6,778.6 1221.4,742.8 1224.3,840.2 1226.6,804.4 1231.8,827.9 1234.3,816.8 1239.2,853.7 1242.1,792.1 1244.9,827.9 1247.5,840.2 1250.1,816.8 1252.4,853.7 1255,729.2 1260.7,840.2 1262.7,644.2 1265.1,816.8 1267.9,827.9 1270.8,716.9"/>
</g>
<path d="M755.8 1075.6v7.3M755.8 644.2v-7.3M884.9 1075.6v7.3M884.9 644.2v-7.3M1014 1075.6v7.3M1014 644.2v-7.3M1143.2 1075.6v7.3M1143.2 644.2v-7.3M1272.3 1075.6v7.3M1272.3 644.2v-7.3M755.8 1075.6h-7.3M1272.3 1075.6h7.3M755.8 1014h-7.3M1272.3 1014h7.3M755.8 952.3h-7.3M1272.3 952.3h7.3M755.8 890.7h-7.3M1272.3 890.7h7.3M755.8 829.1h-7.3M1272.3 829.1h7.3M755.8 767.5h-7.3M1272.3 767.5h7.3M755.8 705.8h-7.3M1272.3 705.8h7.3M755.8 644.2h-7.3M1272.3 644.2h7.3" stroke="#444444" stroke-width="1.3" fill="none"/>
<text class="tk" x="755.8" y="1101.7" font-size="15.3" text-anchor="middle">0</text>
<text class="tk" x="884.9" y="1101.7" font-size="15.3" text-anchor="middle">50</text>
<text class="tk" x="1014" y="1101.7" font-size="15.3" text-anchor="middle">100</text>
<text class="tk" x="1143.2" y="1101.7" font-size="15.3" text-anchor="middle">150</text>
<text class="tk" x="1272.3" y="1101.7" font-size="15.3" text-anchor="middle">200</text>
<text class="tk" x="741.8" y="1080.3" font-size="15.3" text-anchor="end">−20</text>
<text class="tk" x="741.8" y="1018.6" font-size="15.3" text-anchor="end">−15</text>
<text class="tk" x="741.8" y="957" font-size="15.3" text-anchor="end">−10</text>
<text class="tk" x="741.8" y="895.4" font-size="15.3" text-anchor="end">−5</text>
<text class="tk" x="741.8" y="833.8" font-size="15.3" text-anchor="end">0</text>
<text class="tk" x="741.8" y="772.1" font-size="15.3" text-anchor="end">5</text>
<text class="tk" x="741.8" y="710.5" font-size="15.3" text-anchor="end">10</text>
<text class="tk" x="741.8" y="648.9" font-size="15.3" text-anchor="end">15</text>
<text class="lb" x="1013.6" y="1127.4" font-size="20.8" text-anchor="middle">Time (s)</text>
<text class="lb" transform="translate(698.3 939.9) rotate(-90)" font-size="20.8">Acceleration</text>
<text class="lb" transform="translate(698.9 817.5) rotate(-90)" font-size="15.3">(<tspan dx="1.2" font-size="13.3">m/</tspan><tspan dx="1.2" font-size="13.3"> </tspan><tspan dx="1.2" font-size="13.3" font-style="italic">s</tspan><tspan dx="1.2" dy="-6.7" font-size="10.3">2</tspan><tspan dx="1.2" dy="6.7">)</tspan></text>
<text class="cp" x="1005.5" y="1181.5" font-size="30" text-anchor="middle" textLength="192.8" lengthAdjust="spacing">(<tspan font-weight="bold">d</tspan>) Downstairs</text>
</g>
<g>
<rect x="103.9" y="1243.5" width="548.1" height="457" fill="#e5e5e5"/>
<path d="M240.9 1243.5V1700.5M378 1243.5V1700.5M515 1243.5V1700.5M103.9 1624.3H652M103.9 1548.2H652M103.9 1472H652M103.9 1395.8H652M103.9 1319.7H652" stroke="#fff" stroke-width="1.3" fill="none"/>
<clipPath id="clip_e"><rect x="103.9" y="1243.5" width="548.1" height="457"/></clipPath>
<g clip-path="url(#clip_e)" fill="none" stroke-width="1.8" stroke-linejoin="round">
<polyline stroke="#DE3E2B" points="103.9,1600.2 106.6,1600.8 109.4,1600.3 112.1,1600.2 114.9,1599.8 117.6,1600.9 120.3,1604.1 123.1,1600.4 125.8,1600.1 128.6,1599.9 131.3,1600.6 134,1600.5 136.8,1600.2 139.5,1599.8 142.3,1600.4 145,1600.8 147.7,1600.5 150.5,1600 153.2,1599.6 156,1600.4 158.7,1600.3 161.5,1600.2 164.2,1600.2 166.9,1600.6 169.7,1600.4 172.4,1600.1 175.2,1600.1 177.9,1600.2 180.6,1600.6 183.4,1600.4 186.1,1600.5 188.9,1599.7 191.6,1599.5 194.3,1600 197.1,1599.4 199.8,1600.3 202.6,1600.3 205.3,1600.8 208,1604.1 210.8,1600.4 213.5,1600.1 216.3,1599.9 219,1600.3 221.7,1600.7 224.5,1600.2 227.2,1600.2 230,1600.2 232.7,1599.9 235.4,1600.3 238.2,1600.3 240.9,1599.4 243.7,1599.7 246.4,1600.2 249.1,1600.6 251.9,1600.4 254.6,1600 257.4,1599.8 260.1,1599.1 262.8,1600.3 265.6,1600.1 268.3,1600.3 271.1,1600.1 273.8,1600.3 276.6,1600.6 279.3,1599.7 282,1600.1 284.8,1599.6 287.5,1600.4 290.3,1600 293,1599.9 295.7,1604.1 298.5,1600.7 301.2,1599.8 304,1600.1 306.7,1601 309.4,1600.5 312.2,1600.6 314.9,1600.4 317.7,1599.5 320.4,1600.4 323.1,1599.2 325.9,1600.3 328.6,1600.5 331.4,1599.4 334.1,1599.7 336.8,1599.5 339.6,1599.3 342.3,1599.7 345.1,1599.6 347.8,1600.9 350.5,1600.5 353.3,1599.9 356,1600 358.8,1599.8 361.5,1600.4 364.2,1599.6 367,1599.2 369.7,1599.9 372.5,1599.8 375.2,1599.9 378,1599.7 380.7,1600 383.4,1604.1 386.2,1600 388.9,1600.1 391.7,1600.8 394.4,1600 397.1,1600.1 399.9,1600 402.6,1600.4 405.4,1599.9 408.1,1599.8 410.8,1600.4 413.6,1600 416.3,1599.8 419.1,1599.8 421.8,1600.5 424.5,1600.6 427.3,1600.1 430,1600.6 432.8,1599 435.5,1600.5 438.2,1600.5 441,1599.8 443.7,1600.4 446.5,1601.2 449.2,1600.2 451.9,1600.6 454.7,1600.4 457.4,1600.9 460.2,1600.6 462.9,1600.2 465.6,1600.2 468.4,1600.7 471.1,1600.5 473.9,1600.5 476.6,1600.1 479.3,1600.2 482.1,1600.7 484.8,1599.9 487.6,1600.5 490.3,1600 493.1,1600.6 495.8,1600 498.5,1600.2 501.3,1600.2 504,1599.9 506.8,1600 509.5,1600.1 512.2,1600.1 515,1604.1 517.7,1600.2 520.5,1601.2 523.2,1601.2 525.9,1600.3 528.7,1600.3 531.4,1599.5 534.2,1599.9 536.9,1599.7 539.6,1600.3 542.4,1600 545.1,1599.6 547.9,1599.9 550.6,1600 553.3,1600.1 556.1,1600.6 558.8,1600.6 561.6,1600.8 564.3,1600 567,1600.3 569.8,1600.5 572.5,1600 575.3,1600.4 578,1599.7 580.7,1599.3 583.5,1600 586.2,1600.5 589,1600.8 591.7,1599.3 594.4,1600 597.2,1600.7 599.9,1599.7 602.7,1604.1 605.4,1600.4 608.2,1600.3 610.9,1600.3 613.6,1600.7 616.4,1599.1 619.1,1600.3 621.9,1600 624.6,1600.1 627.3,1600.9 630.1,1600.4 632.8,1600.1 635.6,1599.7 638.3,1600.3 641,1600 643.8,1600.3 646.5,1599.9 649.3,1601.3"/>
<polyline stroke="#2A83BC" points="103.9,1643.9 106.6,1644.3 109.4,1644.5 112.1,1645.6 114.9,1645.5 117.6,1644.7 120.3,1643.4 123.1,1644 125.8,1644.4 128.6,1644.1 131.3,1644 134,1644.3 136.8,1644.3 139.5,1644.4 142.3,1644 145,1643.7 147.7,1643.1 150.5,1643.1 153.2,1643.2 156,1643.5 158.7,1643.3 161.5,1644.1 164.2,1643.1 166.9,1643.4 169.7,1643.1 172.4,1643.9 175.2,1643.5 177.9,1643.6 180.6,1643.9 183.4,1644.3 186.1,1644.6 188.9,1643.6 191.6,1643.3 194.3,1643.6 197.1,1643.7 199.8,1644.2 202.6,1645 205.3,1645.5 208,1645.2 210.8,1644.9 213.5,1645.1 216.3,1644.4 219,1644 221.7,1644 224.5,1644.9 227.2,1644.7 230,1644.5 232.7,1644.9 235.4,1645.6 238.2,1644.1 240.9,1643.9 243.7,1644.1 246.4,1643.4 249.1,1643.2 251.9,1643.4 254.6,1643.6 257.4,1643.4 260.1,1643.1 262.8,1643.5 265.6,1643.8 268.3,1643.7 271.1,1645.2 273.8,1644.7 276.6,1644.7 279.3,1644.5 282,1644.4 284.8,1644.2 287.5,1644.1 290.3,1644.1 293,1644.2 295.7,1643.9 298.5,1644.3 301.2,1643.8 304,1644.7 306.7,1644.4 309.4,1644.1 312.2,1644.7 314.9,1644.7 317.7,1643.8 320.4,1644 323.1,1644.5 325.9,1645.7 328.6,1644.9 331.4,1644.6 334.1,1644.1 336.8,1643.2 339.6,1643.6 342.3,1643.7 345.1,1644.2 347.8,1644.2 350.5,1644.2 353.3,1643.8 356,1643.7 358.8,1644.2 361.5,1644.4 364.2,1643.7 367,1644.3 369.7,1643.9 372.5,1643.2 375.2,1643.3 378,1643.5 380.7,1643.1 383.4,1643.4 386.2,1643.7 388.9,1644 391.7,1643.5 394.4,1643.4 397.1,1643 399.9,1643.6 402.6,1644 405.4,1644.2 408.1,1644.1 410.8,1644.4 413.6,1643.9 416.3,1643.8 419.1,1644.4 421.8,1645.6 424.5,1645.9 427.3,1644.5 430,1644.4 432.8,1644.2 435.5,1644.4 438.2,1644.1 441,1645 443.7,1645.6 446.5,1645.7 449.2,1645.1 451.9,1644.4 454.7,1644.1 457.4,1644.2 460.2,1644.7 462.9,1644.1 465.6,1644.3 468.4,1644.2 471.1,1644.2 473.9,1644.4 476.6,1644.6 479.3,1644.7 482.1,1645.1 484.8,1644.6 487.6,1644.5 490.3,1643.9 493.1,1644.8 495.8,1644 498.5,1644.1 501.3,1644.2 504,1644.5 506.8,1644.8 509.5,1645.2 512.2,1644.4 515,1644.4 517.7,1644 520.5,1643.6 523.2,1644.1 525.9,1644.2 528.7,1644.3 531.4,1643.8 534.2,1643.9 536.9,1643.9 539.6,1643.7 542.4,1643.9 545.1,1643.1 547.9,1643.9 550.6,1643.4 553.3,1643.1 556.1,1644 558.8,1643.7 561.6,1643.7 564.3,1643.5 567,1644.3 569.8,1644.1 572.5,1644.6 575.3,1644.6 578,1643.7 580.7,1644 583.5,1645.1 586.2,1645.3 589,1645.4 591.7,1644.4 594.4,1644.6 597.2,1645.1 599.9,1644.2 602.7,1644.1 605.4,1643.9 608.2,1644.4 610.9,1643.6 613.6,1643.9 616.4,1644.9 619.1,1645.1 621.9,1645.1 624.6,1644.8 627.3,1644.2 630.1,1644.5 632.8,1644.6 635.6,1643.4 638.3,1643.7 641,1644.1 643.8,1644.1 646.5,1644.7 649.3,1644.2"/>
<polyline stroke="#8B7ED6" points="103.9,1282.3 106.6,1282.3 109.4,1282.3 112.1,1282.3 114.9,1282.3 117.6,1282.3 120.3,1282.3 123.1,1282.3 125.8,1282.3 128.6,1282.3 131.3,1282.3 134,1282.3 136.8,1282.3 139.5,1282.3 142.3,1282.3 145,1282.3 147.7,1282.3 150.5,1282.3 153.2,1282.3 156,1282.3 158.7,1282.3 161.5,1282.3 164.2,1282.3 166.9,1282.3 169.7,1282.3 172.4,1282.3 175.2,1282.3 177.9,1282.3 180.6,1282.3 183.4,1282.3 186.1,1282.3 188.9,1282.3 191.6,1282.3 194.3,1282.3 197.1,1282.3 199.8,1282.3 202.6,1282.3 205.3,1282.3 208,1282.3 210.8,1282.3 213.5,1282.3 216.3,1282.3 219,1282.3 221.7,1282.3 224.5,1282.3 227.2,1282.3 230,1282.3 232.7,1282.3 235.4,1282.3 238.2,1282.3 240.9,1282.3 243.7,1282.3 246.4,1282.3 249.1,1282.3 251.9,1282.3 254.6,1282.3 257.4,1282.3 260.1,1282.3 262.8,1282.3 265.6,1282.3 268.3,1282.3 271.1,1282.3 273.8,1282.3 276.6,1282.3 279.3,1282.3 282,1282.3 284.8,1282.3 287.5,1282.3 290.3,1282.3 293,1282.3 295.7,1282.3 298.5,1282.3 301.2,1282.3 304,1282.3 306.7,1282.3 309.4,1282.3 312.2,1282.3 314.9,1282.3 317.7,1282.3 320.4,1282.3 323.1,1282.3 325.9,1282.3 328.6,1282.3 331.4,1282.3 334.1,1282.3 336.8,1282.3 339.6,1282.3 342.3,1282.3 345.1,1282.3 347.8,1282.3 350.5,1282.3 353.3,1282.3 356,1282.3 358.8,1282.3 361.5,1282.3 364.2,1282.3 367,1282.3 369.7,1282.3 372.5,1282.3 375.2,1282.3 378,1282.3 380.7,1282.3 383.4,1282.3 386.2,1282.3 388.9,1282.3 391.7,1282.3 394.4,1282.3 397.1,1282.3 399.9,1282.3 402.6,1282.3 405.4,1282.3 408.1,1282.3 410.8,1282.3 413.6,1282.3 416.3,1282.3 419.1,1282.3 421.8,1282.3 424.5,1282.3 427.3,1282.3 430,1282.3 432.8,1282.3 435.5,1282.3 438.2,1282.3 441,1282.3 443.7,1282.3 446.5,1282.3 449.2,1282.3 451.9,1282.3 454.7,1282.3 457.4,1282.3 460.2,1282.3 462.9,1282.3 465.6,1282.3 468.4,1282.3 471.1,1282.3 473.9,1282.3 476.6,1282.3 479.3,1282.3 482.1,1282.3 484.8,1282.3 487.6,1282.3 490.3,1282.3 493.1,1282.3 495.8,1282.3 498.5,1282.3 501.3,1282.3 504,1282.3 506.8,1282.3 509.5,1282.3 512.2,1282.3 515,1282.3 517.7,1282.3 520.5,1282.3 523.2,1282.3 525.9,1282.3 528.7,1282.3 531.4,1282.3 534.2,1282.3 536.9,1282.3 539.6,1282.3 542.4,1282.3 545.1,1282.3 547.9,1282.3 550.6,1282.3 553.3,1282.3 556.1,1282.3 558.8,1282.3 561.6,1282.3 564.3,1282.3 567,1282.3 569.8,1282.3 572.5,1282.3 575.3,1282.3 578,1282.3 580.7,1282.3 583.5,1282.3 586.2,1282.3 589,1282.3 591.7,1282.3 594.4,1282.3 597.2,1282.3 599.9,1282.3 602.7,1282.3 605.4,1282.3 608.2,1282.3 610.9,1282.3 613.6,1282.3 616.4,1282.3 619.1,1282.3 621.9,1282.3 624.6,1282.3 627.3,1282.3 630.1,1282.3 632.8,1282.3 635.6,1282.3 638.3,1282.3 641,1282.3 643.8,1282.3 646.5,1282.3 649.3,1282.3"/>
</g>
<path d="M103.9 1700.5v7.7M103.9 1243.5v-7.7M240.9 1700.5v7.7M240.9 1243.5v-7.7M378 1700.5v7.7M378 1243.5v-7.7M515 1700.5v7.7M515 1243.5v-7.7M652 1700.5v7.7M652 1243.5v-7.7M103.9 1700.5h-7.7M652 1700.5h7.7M103.9 1624.3h-7.7M652 1624.3h7.7M103.9 1548.2h-7.7M652 1548.2h7.7M103.9 1472h-7.7M652 1472h7.7M103.9 1395.8h-7.7M652 1395.8h7.7M103.9 1319.7h-7.7M652 1319.7h7.7M103.9 1243.5h-7.7M652 1243.5h7.7" stroke="#444444" stroke-width="1.4" fill="none"/>
<text class="tk" x="103.9" y="1728.2" font-size="16.2" text-anchor="middle">0</text>
<text class="tk" x="240.9" y="1728.2" font-size="16.2" text-anchor="middle">50</text>
<text class="tk" x="378" y="1728.2" font-size="16.2" text-anchor="middle">100</text>
<text class="tk" x="515" y="1728.2" font-size="16.2" text-anchor="middle">150</text>
<text class="tk" x="652" y="1728.2" font-size="16.2" text-anchor="middle">200</text>
<text class="tk" x="89" y="1705.5" font-size="16.2" text-anchor="end">−2</text>
<text class="tk" x="89" y="1629.3" font-size="16.2" text-anchor="end">0</text>
<text class="tk" x="89" y="1553.2" font-size="16.2" text-anchor="end">2</text>
<text class="tk" x="89" y="1477" font-size="16.2" text-anchor="end">4</text>
<text class="tk" x="89" y="1400.8" font-size="16.2" text-anchor="end">6</text>
<text class="tk" x="89" y="1324.7" font-size="16.2" text-anchor="end">8</text>
<text class="tk" x="89" y="1248.5" font-size="16.2" text-anchor="end">10</text>
<text class="lb" x="376.5" y="1755.7" font-size="22.1" text-anchor="middle">Time (s)</text>
<text class="lb" transform="translate(55.5 1546.5) rotate(-90)" font-size="22.1">Acceleration</text>
<text class="lb" transform="translate(56.1 1416.5) rotate(-90)" font-size="16.2">(<tspan dx="1.3" font-size="14.1">m/</tspan><tspan dx="1.3" font-size="14.1"> </tspan><tspan dx="1.3" font-size="14.1" font-style="italic">s</tspan><tspan dx="1.3" dy="-7.1" font-size="11">2</tspan><tspan dx="1.3" dy="7.1">)</tspan></text>
<text class="cp" x="364.9" y="1803.1" font-size="30" text-anchor="middle" textLength="125.5" lengthAdjust="spacing">(<tspan font-weight="bold">e</tspan>) Sitting</text>
</g>
<g>
<rect x="786.9" y="1262.3" width="513.1" height="427.9" fill="#e5e5e5"/>
<path d="M915.2 1262.3V1690.2M1043.5 1262.3V1690.2M1171.7 1262.3V1690.2M786.9 1629.1H1300M786.9 1567.9H1300M786.9 1506.8H1300M786.9 1445.7H1300M786.9 1384.6H1300M786.9 1323.4H1300" stroke="#fff" stroke-width="1.2" fill="none"/>
<clipPath id="clip_f"><rect x="786.9" y="1262.3" width="513.1" height="427.9"/></clipPath>
<g clip-path="url(#clip_f)" fill="none" stroke-width="1.7" stroke-linejoin="round">
<polyline stroke="#DE3E2B" points="786.9,1288.1 789.5,1291.1 792,1288.2 794.6,1290.5 797.2,1289.7 799.7,1285.9 802.3,1292.9 804.9,1294.8 807.4,1291.2 810,1291.3 812.6,1291.3 815.1,1293.4 817.7,1294.2 820.3,1293.1 822.8,1290.1 825.4,1289.6 827.9,1291.8 830.5,1290.1 833.1,1286 835.6,1288.8 838.2,1285 840.8,1287.7 843.3,1286.4 845.9,1290.5 848.5,1287.6 851,1292.5 853.6,1290.4 856.2,1291.2 858.7,1295.5 861.3,1295.3 863.9,1289.1 866.4,1288.8 869,1286.8 871.6,1288.9 874.1,1297 876.7,1291.8 879.3,1292.2 881.8,1292.2 884.4,1292.1 887,1292.8 889.5,1293.5 892.1,1288.3 894.7,1288.7 897.2,1291.5 899.8,1291.8 902.3,1288.5 904.9,1288.9 907.5,1289.5 910,1293.2 912.6,1292.3 915.2,1293.8 917.7,1296.1 920.3,1290 922.9,1291.1 925.4,1291.6 928,1293.2 930.6,1289.4 933.1,1285 935.7,1287.4 938.3,1287.3 940.8,1292.5 943.4,1284.5 946,1290 948.5,1286.7 951.1,1289.3 953.7,1292.4 956.2,1291.2 958.8,1291.7 961.4,1287.3 963.9,1287.9 966.5,1288.8 969.1,1289.5 971.6,1288.1 974.2,1291 976.7,1286.7 979.3,1295.8 981.9,1289.1 984.4,1288.8 987,1288.4 989.6,1289.7 992.1,1286.2 994.7,1291.6 997.3,1287.9 999.8,1291.7 1002.4,1292 1005,1293.9 1007.5,1291.3 1010.1,1291.4 1012.7,1289.7 1015.2,1285.6 1017.8,1294.2 1020.4,1290.2 1022.9,1287.3 1025.5,1287.7 1028.1,1289.8 1030.6,1289.3 1033.2,1294.3 1035.8,1292.4 1038.3,1288.2 1040.9,1288.7 1043.5,1292 1046,1288.9 1048.6,1290.3 1051.1,1288.7 1053.7,1293.4 1056.3,1292.7 1058.8,1290.4 1061.4,1289.7 1064,1288.9 1066.5,1290.1 1069.1,1284.7 1071.7,1289.5 1074.2,1288.1 1076.8,1293.5 1079.4,1292.2 1081.9,1291.5 1084.5,1290.4 1087.1,1288 1089.6,1293 1092.2,1289.9 1094.8,1294.6 1097.3,1293.6 1099.9,1292.7 1102.5,1285.7 1105,1292.4 1107.6,1292.3 1110.2,1291.9 1112.7,1291.6 1115.3,1295.3 1117.8,1295.4 1120.4,1293 1123,1290 1125.5,1287.9 1128.1,1276.6 1130.7,1287.9 1133.2,1291.6 1135.8,1284.3 1138.4,1288.8 1140.9,1289.6 1143.5,1292.8 1146.1,1291.4 1148.6,1290.9 1151.2,1294 1153.8,1294.5 1156.3,1288.8 1158.9,1295.4 1161.5,1291.6 1164,1291.4 1166.6,1287.4 1169.2,1282 1171.7,1291.9 1174.3,1287.8 1176.9,1291.1 1179.4,1285.8 1182,1278.9 1184.6,1289.1 1187.1,1288.2 1189.7,1289.3 1192.2,1292.3 1194.8,1288.5 1197.4,1288.8 1199.9,1287.9 1202.5,1287.1 1205.1,1286 1207.6,1286.6 1210.2,1289.5 1212.8,1290 1215.3,1289.3 1217.9,1290.4 1220.5,1291 1223,1286.1 1225.6,1288 1228.2,1285.1 1230.7,1290.7 1233.3,1290.6 1235.9,1285.4 1238.4,1291.7 1241,1291.5 1243.6,1291.1 1246.1,1291.7 1248.7,1286.4 1251.3,1287.6 1253.8,1291.4 1256.4,1292 1259,1289.1 1261.5,1288.7 1264.1,1291.4 1266.6,1288.5 1269.2,1293.3 1271.8,1292.4 1274.3,1280.7 1276.9,1295.7 1279.5,1292.5 1282,1282.5 1284.6,1290.2 1287.2,1286.1 1289.7,1293.1 1292.3,1296.3 1294.9,1295.4 1297.4,1291.8"/>
<polyline stroke="#2A83BC" points="786.9,1634.3 789.5,1632.8 792,1632.6 794.6,1635 797.2,1635.2 799.7,1636.8 802.3,1634.1 804.9,1633.8 807.4,1634 810,1633.9 812.6,1634.2 815.1,1634.6 817.7,1634.6 820.3,1633.4 822.8,1635.7 825.4,1636.8 827.9,1635.7 830.5,1633.7 833.1,1634.4 835.6,1635.2 838.2,1634.1 840.8,1634.7 843.3,1637.6 845.9,1637.3 848.5,1638.7 851,1636.5 853.6,1630.6 856.2,1638.9 858.7,1632.2 861.3,1635.1 863.9,1635.1 866.4,1635.7 869,1639.2 871.6,1637.4 874.1,1636.8 876.7,1635.3 879.3,1636.4 881.8,1637.3 884.4,1635 887,1635.2 889.5,1636.4 892.1,1636.6 894.7,1636 897.2,1634.3 899.8,1633 902.3,1636.3 904.9,1633.9 907.5,1634.7 910,1634.5 912.6,1633.7 915.2,1636 917.7,1634.3 920.3,1636.7 922.9,1636.3 925.4,1636.7 928,1633.3 930.6,1632.4 933.1,1633.3 935.7,1633.9 938.3,1635.5 940.8,1632.9 943.4,1632.6 946,1633.2 948.5,1634.7 951.1,1635.5 953.7,1635.4 956.2,1633.4 958.8,1635.9 961.4,1635.2 963.9,1632.9 966.5,1633.3 969.1,1632.2 971.6,1633.7 974.2,1634.1 976.7,1632.9 979.3,1633.6 981.9,1634.2 984.4,1635.5 987,1637.3 989.6,1633.7 992.1,1635.3 994.7,1636.2 997.3,1634.2 999.8,1636.1 1002.4,1637.2 1005,1636.5 1007.5,1635.6 1010.1,1634.9 1012.7,1634.3 1015.2,1633.5 1017.8,1634.8 1020.4,1634.5 1022.9,1635.1 1025.5,1636 1028.1,1634.8 1030.6,1634.5 1033.2,1632.4 1035.8,1633.5 1038.3,1635.6 1040.9,1634.4 1043.5,1635.2 1046,1633 1048.6,1636.8 1051.1,1636.5 1053.7,1636.4 1056.3,1635.3 1058.8,1635.3 1061.4,1637.3 1064,1638.3 1066.5,1635.8 1069.1,1633.3 1071.7,1632.6 1074.2,1634.9 1076.8,1634.4 1079.4,1636.1 1081.9,1637.3 1084.5,1634.1 1087.1,1633.9 1089.6,1635.2 1092.2,1635.6 1094.8,1634 1097.3,1634.3 1099.9,1635.3 1102.5,1634.8 1105,1635 1107.6,1635.6 1110.2,1636.2 1112.7,1634.2 1115.3,1635.4 1117.8,1636.8 1120.4,1633.1 1123,1632.8 1125.5,1633.7 1128.1,1634.7 1130.7,1634.7 1133.2,1636.9 1135.8,1635.7 1138.4,1634.9 1140.9,1635.3 1143.5,1634.6 1146.1,1636 1148.6,1635.1 1151.2,1637.2 1153.8,1635.8 1156.3,1636.1 1158.9,1637.2 1161.5,1636.3 1164,1635.4 1166.6,1636 1169.2,1634.1 1171.7,1635.8 1174.3,1634 1176.9,1633.8 1179.4,1635.5 1182,1633.3 1184.6,1636.4 1187.1,1634.8 1189.7,1634.9 1192.2,1634 1194.8,1636.9 1197.4,1632.1 1199.9,1649.9 1202.5,1635.6 1205.1,1635.2 1207.6,1635.1 1210.2,1635.5 1212.8,1636.2 1215.3,1637.3 1217.9,1636.4 1220.5,1634.8 1223,1633.7 1225.6,1635.4 1228.2,1633.8 1230.7,1636.6 1233.3,1634.5 1235.9,1636.4 1238.4,1635.2 1241,1636.5 1243.6,1636.9 1246.1,1636.4 1248.7,1633.6 1251.3,1635.6 1253.8,1634.5 1256.4,1634.7 1259,1634.6 1261.5,1634.6 1264.1,1634.1 1266.6,1636.5 1269.2,1635.5 1271.8,1634.8 1274.3,1635.8 1276.9,1634.9 1279.5,1626.6 1282,1638.2 1284.6,1635.9 1287.2,1635.8 1289.7,1634.3 1292.3,1633.4 1294.9,1635.4 1297.4,1636.1"/>
<polyline stroke="#8B7ED6" points="786.9,1323.4 788.7,1323.4 791.5,1292.9 795.9,1292.9 800.5,1354 804.6,1292.9 814.4,1292.9 817.4,1323.4 838.5,1323.4 840.8,1292.9 843.9,1323.4 845.4,1323.4 848.2,1292.9 850.8,1292.9 853.6,1323.4 856.2,1323.4 858.5,1292.9 861,1354 864.4,1292.9 868.7,1323.4 871.3,1323.4 873.9,1292.9 876.2,1323.4 878.7,1292.9 881.1,1292.9 884.1,1323.4 886.2,1323.4 889.5,1292.9 891.8,1323.4 894.4,1323.4 897.7,1292.9 901.8,1323.4 917.2,1323.4 920.3,1292.9 922.6,1323.4 925.2,1292.9 927.5,1292.9 930.1,1323.4 932.6,1292.9 938,1354 945.2,1354 948.3,1323.4 949.8,1323.4 951.6,1354 955.7,1292.9 958.5,1323.4 961.1,1292.9 963.4,1323.4 968.3,1323.4 971.9,1354 976.7,1292.9 982.1,1323.4 984.2,1323.4 987.5,1354 991.4,1292.9 994.4,1323.4 996.8,1323.4 999.8,1292.9 1002.4,1323.4 1004.7,1292.9 1007.3,1323.4 1009.6,1292.9 1012.7,1323.4 1015,1292.9 1017.8,1323.4 1020.1,1292.9 1022.9,1323.4 1025.5,1292.9 1027.8,1323.4 1030.6,1292.9 1033.2,1323.4 1040.6,1323.4 1043.2,1292.9 1045.8,1354 1048.5,1323.4 1058.6,1323.4 1061.4,1354 1064,1292.9 1066.5,1323.4 1069.4,1292.9 1074.5,1323.4 1077.1,1292.9 1079.6,1323.4 1082.2,1292.9 1091.9,1292.9 1094.5,1323.4 1097.1,1292.9 1099.8,1323.4 1105,1323.4 1107.6,1292.9 1110.2,1292.9 1113,1354 1115.5,1323.4 1118.4,1323.4 1120.4,1292.9 1123,1292.9 1125.7,1323.4 1128.4,1323.4 1130.9,1292.9 1133.5,1323.4 1135.8,1292.9 1138.4,1323.4 1140.9,1292.9 1143.5,1292.9 1146.3,1354 1150.9,1292.9 1153.8,1323.4 1156.3,1323.4 1158.9,1292.9 1161.7,1323.4 1164.3,1292.9 1166.9,1323.4 1169.2,1323.4 1171.7,1292.9 1174.5,1323.4 1177.1,1323.4 1179.7,1292.9 1182.5,1323.4 1184.6,1323.4 1187.1,1292.9 1192.5,1354 1195.1,1292.9 1199.9,1293.8 1202.5,1323.4 1205.6,1292.9 1207.4,1292.9 1210.5,1323.4 1213,1292.9 1215.6,1323.4 1218.2,1292.9 1220.7,1323.4 1223,1292.9 1228.2,1292.9 1231,1354 1233.6,1323.4 1236.1,1354 1238.4,1354 1241.3,1292.9 1243.8,1323.4 1248.9,1323.4 1251.8,1292.9 1256.4,1354 1259.2,1292.9 1263.8,1292.9 1267.2,1323.4 1269.7,1323.4 1272.3,1292.9 1274.9,1323.4 1277.2,1323.4 1279.7,1354 1282.3,1292.9 1285.1,1323.4 1287.7,1292.9 1290.3,1323.4 1292.8,1292.9 1295.6,1323.4 1298.2,1323.4"/>
</g>
<path d="M786.9 1690.2v7.2M786.9 1262.3v-7.2M915.2 1690.2v7.2M915.2 1262.3v-7.2M1043.5 1690.2v7.2M1043.5 1262.3v-7.2M1171.7 1690.2v7.2M1171.7 1262.3v-7.2M1300 1690.2v7.2M1300 1262.3v-7.2M786.9 1690.2h-7.2M1300 1690.2h7.2M786.9 1629.1h-7.2M1300 1629.1h7.2M786.9 1567.9h-7.2M1300 1567.9h7.2M786.9 1506.8h-7.2M1300 1506.8h7.2M786.9 1445.7h-7.2M1300 1445.7h7.2M786.9 1384.6h-7.2M1300 1384.6h7.2M786.9 1323.4h-7.2M1300 1323.4h7.2M786.9 1262.3h-7.2M1300 1262.3h7.2" stroke="#444444" stroke-width="1.3" fill="none"/>
<text class="tk" x="786.9" y="1716.1" font-size="15.2" text-anchor="middle">0</text>
<text class="tk" x="915.2" y="1716.1" font-size="15.2" text-anchor="middle">50</text>
<text class="tk" x="1043.5" y="1716.1" font-size="15.2" text-anchor="middle">100</text>
<text class="tk" x="1171.7" y="1716.1" font-size="15.2" text-anchor="middle">150</text>
<text class="tk" x="1300" y="1716.1" font-size="15.2" text-anchor="middle">200</text>
<text class="tk" x="773" y="1694.8" font-size="15.2" text-anchor="end">−12</text>
<text class="tk" x="773" y="1633.7" font-size="15.2" text-anchor="end">−10</text>
<text class="tk" x="773" y="1572.6" font-size="15.2" text-anchor="end">−8</text>
<text class="tk" x="773" y="1511.4" font-size="15.2" text-anchor="end">−6</text>
<text class="tk" x="773" y="1450.3" font-size="15.2" text-anchor="end">−4</text>
<text class="tk" x="773" y="1389.2" font-size="15.2" text-anchor="end">−2</text>
<text class="tk" x="773" y="1328.1" font-size="15.2" text-anchor="end">0</text>
<text class="tk" x="773" y="1266.9" font-size="15.2" text-anchor="end">2</text>
<text class="lb" x="1043.2" y="1742" font-size="20.7" text-anchor="middle">Time (s)</text>
<text class="lb" transform="translate(726.6 1549.9) rotate(-90)" font-size="20.7">Acceleration</text>
<text class="lb" transform="translate(727.2 1428.1) rotate(-90)" font-size="15.2">(<tspan dx="1.2" font-size="13.2">m/</tspan><tspan dx="1.2" font-size="13.2"> </tspan><tspan dx="1.2" font-size="13.2" font-style="italic">s</tspan><tspan dx="1.2" dy="-6.7" font-size="10.3">2</tspan><tspan dx="1.2" dy="6.7">)</tspan></text>
<text class="cp" x="1032.5" y="1803.3" font-size="30" text-anchor="middle" textLength="154.5" lengthAdjust="spacing">(<tspan font-weight="bold">f</tspan>) Standing</text>
</g>
</svg></body></html>
